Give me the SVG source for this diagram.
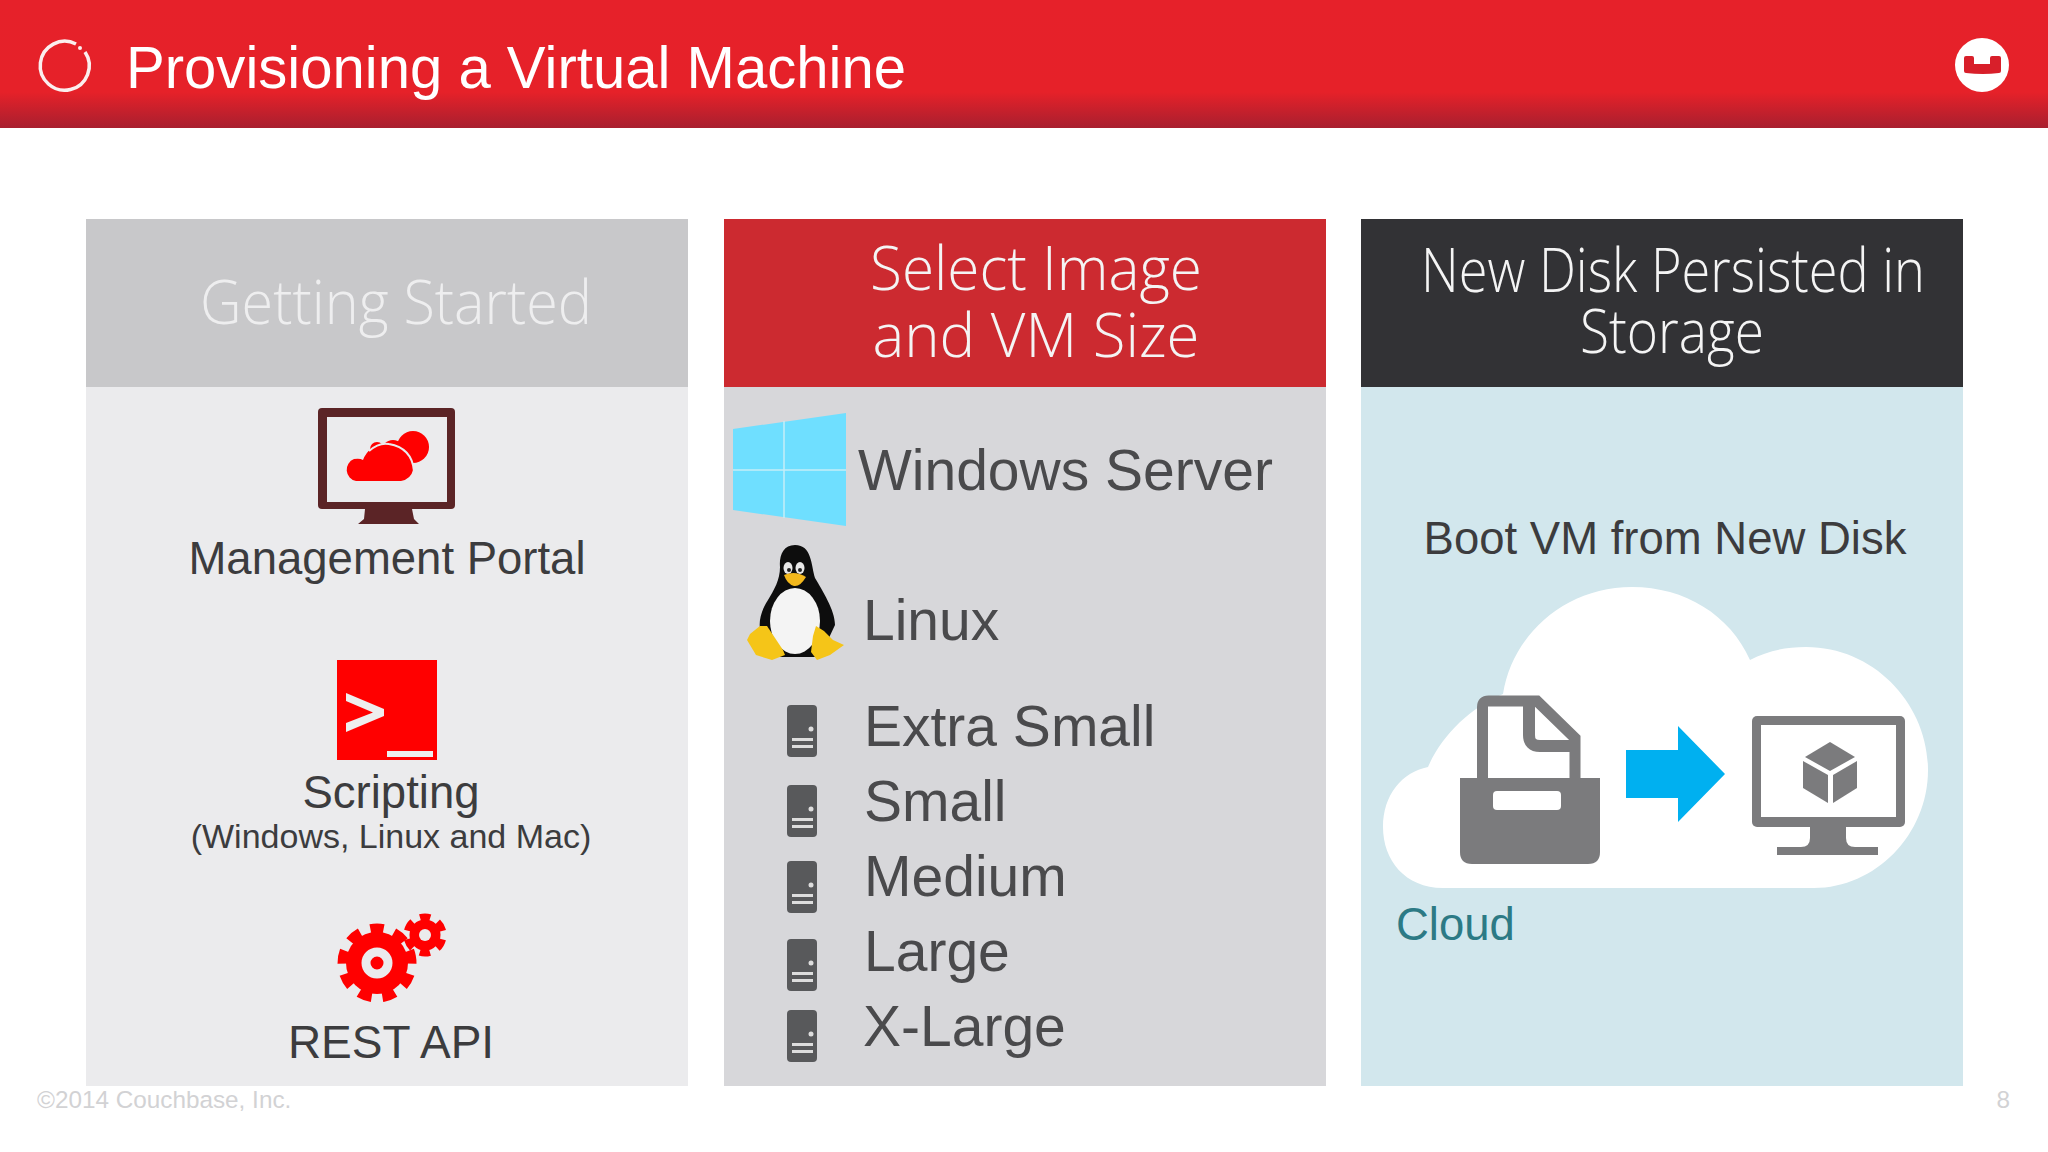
<svg xmlns="http://www.w3.org/2000/svg" xmlns:xlink="http://www.w3.org/1999/xlink" width="2048" height="1152" viewBox="0 0 2048 1152">
<style>
text{font-family:"Liberation Sans",Arial,sans-serif;fill:#3c3c3e}
.h{font-family:"Open Sans","Noto Sans",sans-serif;font-weight:300;font-size:60px;text-anchor:middle;fill:#f4f4f4}
.l{font-size:45.500px}
.c{text-anchor:middle}
.b{font-size:57px;fill:#4a4a4c}
.g{fill:#7b7b7d}
.r{fill:#f00}
</style>
<defs>
<linearGradient id="bar" x1="0" y1="0" x2="0" y2="1">
<stop offset="0" stop-color="#e6212a"/><stop offset=".72" stop-color="#e62129"/><stop offset="1" stop-color="#a81f2f"/>
</linearGradient>
<g id="server">
<rect x="787" y="705" width="30" height="52" rx="4" fill="#58595b"/>
<circle cx="811" cy="729" r="2.500" fill="#ddd"/>
<rect x="792" y="738" width="21" height="3" fill="#ddd"/>
<rect x="792" y="745" width="21" height="3" fill="#ddd"/>
</g>
</defs>
<rect width="2048" height="1152" fill="#fff"/>
<g id="title-bar">
<rect width="2048" height="128" fill="url(#bar)"/>
<path d="M76 44A24.500 24.500 0 1 0 85 52" fill="none" stroke="#fbeeee" stroke-width="3.500"/>
<circle cx="80" cy="48" r="2" fill="#fbeeee"/>
<text x="126" y="88" font-size="60" style="fill:#fff" textLength="780" lengthAdjust="spacingAndGlyphs">Provisioning a Virtual Machine</text>
<circle cx="1982" cy="65" r="27" fill="#fff"/>
<path d="M1966 56h6q2 0 2 2v6h16v-6q0-2 2-2h7q2 0 2 2v13q0 2-2 2q-16 2-33 0q-2 0-2-2v-13q0-2 2-2z" fill="#d81f2a"/>
</g>
<g id="panel-getting-started">
<rect x="86" y="387" width="602" height="699" fill="#ebebed"/>
<rect x="86" y="219" width="602" height="168" fill="#c8c8ca"/>
<text class="h" x="396" y="324" textLength="392" lengthAdjust="spacingAndGlyphs" style="fill:#eeeeef">Getting Started</text>
</g>
<g id="management-portal">
<rect x="318" y="408" width="137" height="101" rx="4" fill="#5b2426"/>
<rect x="327" y="417" width="120" height="85" fill="#ebebed"/>
<path d="M365 509h47l2 10 5 5h-61l6-5z" fill="#5b2426"/>
<circle cx="413" cy="447" r="16" class="r"/>
<circle cx="393" cy="452" r="12" class="r"/>
<circle cx="377" cy="449" r="7" class="r"/>
<path d="M356 481a11.500 11.500 0 0 1-2-22q6-1 9 1q6-16 24-15q26 2 26 25q-2 9-12 11z" class="r"/>
<path d="M369 451q10-9 20-7q23 4 25 27" fill="none" stroke="#ebebed" stroke-width="2"/>
<text class="l c" x="387" y="574">Management Portal</text>
</g>
<g id="scripting">
<rect x="337" y="660" width="100" height="100" class="r"/>
<path d="M346 693l38 16v7l-38 16v-9l27-10.500-27-11.500z" fill="#eee"/>
<rect x="387" y="751" width="46" height="6" fill="#eee"/>
<text class="l c" x="391" y="808">Scripting</text>
<text class="c" x="391" y="848" font-size="34">(Windows, Linux and Mac)</text>
</g>
<g id="rest-api">
<circle cx="377" cy="963" r="31" class="r"/>
<circle cx="377" cy="963" r="34" fill="none" stroke="#f00" stroke-width="11" pathLength="18" stroke-dasharray="1.100 .9" transform="rotate(-101 377 963)"/>
<circle cx="377" cy="963" r="11" fill="none" stroke="#ebebed" stroke-width="9"/>
<circle cx="425" cy="935" r="15.500" class="r"/>
<circle cx="425" cy="935" r="18" fill="none" stroke="#f00" stroke-width="7" pathLength="12" stroke-dasharray="1.100 .9" transform="rotate(-106 425 935)"/>
<circle cx="425" cy="935" r="6" fill="#ebebed"/>
<text class="c" font-size="46" x="391" y="1058">REST API</text>
</g>
<g id="panel-select-image">
<rect x="724" y="387" width="602" height="699" fill="#d7d7da"/>
<rect x="724" y="219" width="602" height="168" fill="#cc2a30"/>
<text class="h" x="1036" y="290" textLength="332" lengthAdjust="spacingAndGlyphs">Select Image</text>
<text class="h" x="1036" y="357" textLength="327" lengthAdjust="spacingAndGlyphs">and VM Size</text>
</g>
<g id="windows-server">
<path d="M733 429L846 413V526L733 510z" fill="#6fdfff"/>
<path d="M784 421V518M733 470H846" stroke="#c5eef8" stroke-width="1.500" fill="none"/>
<text class="b" x="858" y="490">Windows Server</text>
</g>
<g id="linux">
<path d="M795 545C783 545 779 556 780 567C780 580 774 590 768 600C760 612 758 625 761 632L772 657H820L835 625C835 610 822 590 815 578C811 565 812 545 795 545Z" fill="#0d0d0d"/>
<ellipse cx="795" cy="621" rx="25" ry="33" fill="#f4f4f4"/>
<ellipse cx="788" cy="568" rx="4.500" ry="6" fill="#e8e8e8"/>
<ellipse cx="800" cy="568" rx="4.500" ry="6" fill="#e8e8e8"/>
<circle cx="789" cy="570" r="2" fill="#222"/>
<circle cx="800" cy="570" r="2" fill="#222"/>
<path d="M784 575Q795 570 806 577Q800 587 794 586Q787 584 784 575z" fill="#f3b81c"/>
<path d="M760 626L767 626L783 650L785 655L772 660L756 655L747 640L750 634z" fill="#f5c518"/>
<path d="M813 636L816 626L824 631L833 640L844 645L830 655L817 660L811 652z" fill="#f5c518"/>
<text class="b" x="863" y="640">Linux</text>
</g>
<g id="extra-small"><use xlink:href="#server" href="#server"/><text class="b" x="864" y="746">Extra Small</text></g>
<g id="small"><use xlink:href="#server" href="#server" y="80"/><text class="b" x="864" y="821">Small</text></g>
<g id="medium"><use xlink:href="#server" href="#server" y="156"/><text class="b" x="864" y="896">Medium</text></g>
<g id="large"><use xlink:href="#server" href="#server" y="234"/><text class="b" x="864" y="971">Large</text></g>
<g id="x-large"><use xlink:href="#server" href="#server" y="305"/><text class="b" x="863" y="1046">X-Large</text></g>
<g id="panel-new-disk">
<rect x="1361" y="387" width="602" height="699" fill="#d2e7ed"/>
<rect x="1361" y="219" width="602" height="168" fill="#323235"/>
<text class="h" x="1673" y="292" textLength="504" lengthAdjust="spacingAndGlyphs">New Disk Persisted in</text>
<text class="h" x="1672" y="353" textLength="184" lengthAdjust="spacingAndGlyphs">Storage</text>
<text class="l c" x="1665" y="554">Boot VM from New Disk</text>
<text class="l" x="1396" y="940" style="fill:#2c7a85">Cloud</text>
</g>
<g id="cloud">
<path d="M1443 888C1405 888 1383 860 1383 827C1383 795 1402 772 1428 767C1442 735 1470 708 1503 694C1512 635 1565 587 1632 587C1685 587 1730 615 1750 660C1767 651 1785 647 1806 647C1875 647 1928 705 1928 770C1928 835 1875 888 1814 888Z" fill="#fff"/>
</g>
<g id="disk">
<path d="M1482.500 778V707q0-6 6-6H1537L1575 738V778" fill="none" stroke="#7b7b7d" stroke-width="11"/>
<path d="M1529 703V735q0 11 11 11H1575" fill="none" stroke="#7b7b7d" stroke-width="12"/>
<path d="M1460 778H1600V852q0 12-12 12H1472q-12 0-12-12z" class="g"/>
<rect x="1493" y="791" width="68" height="19" rx="4" fill="#fff"/>
</g>
<g id="connectors">
<path d="M1626 750H1678V726L1725 774L1678 822V798H1626z" fill="#00b0f0"/>
</g>
<g id="vm">
<rect x="1752" y="716" width="153" height="111" rx="5" class="g"/>
<rect x="1761" y="725" width="135" height="92" fill="#fff"/>
<path d="M1810 827H1846V838q0 9 9 9H1878V855H1777V847H1801q9 0 9-9z" class="g"/>
<path d="M1830 742L1855 757L1830 771L1805 757z" class="g"/>
<path d="M1803 761L1828 775V803L1803 788z" class="g"/>
<path d="M1857 761L1833 775V803L1857 788z" class="g"/>
</g>
<g id="footer">
<text x="37" y="1107.500" font-size="24.300" style="fill:#d2d2d4">©2014 Couchbase, Inc.</text>
<text x="2010" y="1107.500" font-size="24.300" text-anchor="end" style="fill:#d2d2d4">8</text>
</g>
</svg>
